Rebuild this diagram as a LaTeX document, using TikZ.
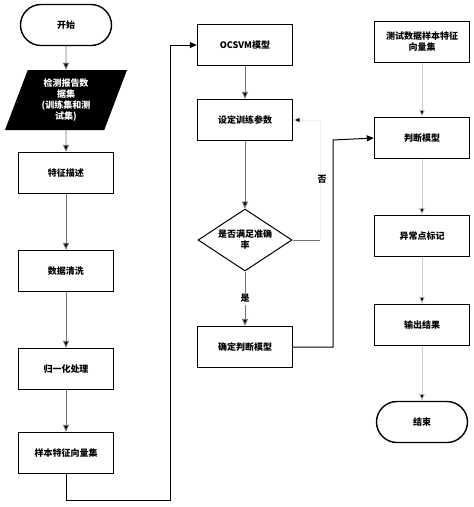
\documentclass[tikz,border=0pt]{standalone}
\usepackage{fontspec}
\setmainfont{Noto Sans CJK SC}
\usetikzlibrary{shapes.geometric,shapes.misc,arrows.meta}
\tikzset{
	procbox/.style={draw, line width=1.4pt, minimum width=95pt, minimum height=41pt, inner sep=2pt, font=\bfseries\small, align=center},
	termbox/.style={procbox, rounded rectangle},
	iobox/.style={trapezium, trapezium left angle=63, trapezium right angle=117, fill=black, text=white, minimum width=122pt, minimum height=60pt, inner sep=1pt, font=\bfseries\small, align=center, trapezium stretches body},
	askbox/.style={diamond, draw, line width=1pt, minimum width=94pt, minimum height=62pt, inner sep=0pt, font=\bfseries\small, align=center, aspect=1.5},
	flow/.style={line width=0.9pt, draw=black!55, -{Triangle[length=7pt,width=6pt,fill=black]}},
	flowlight/.style={flow, draw=black!20},
	link/.style={line width=1pt, -{Triangle[length=7pt,width=6pt]}}
}
\begin{document}
\begin{tikzpicture}[x=1pt,y=-1pt]
		%%%%% START %%%%%
		\useasboundingbox (0,0) rectangle (474,507);
		
		% left column
		\node[termbox] (start) at (66,25) {开始};
		\node[iobox] (data) at (66,100) {检测报告数\\据集\\(训练集和测\\试集)};
		\node[procbox] (desc) at (66,173) {特征描述};
		\node[procbox] (clean) at (66,271) {数据清洗};
		\node[procbox] (norm) at (66,369) {归一化处理};
		\node[procbox] (vec) at (66,453) {样本特征向量集};
		
		% middle column
		\node[procbox] (svm) at (245,45) {OCSVM模型};
		\node[procbox] (param) at (245,120) {设定训练参数};
		\node[askbox] (ask) at (245,240) {是否满足准确\\率};
		\node[procbox] (model) at (245,347) {确定判断模型};
		
		% right column
		\node[procbox] (test) at (422,42) {测试数据样本特征\\向量集};
		\node[procbox] (judge) at (422,138) {判断模型};
		\node[procbox] (mark) at (422,236) {异常点标记};
		\node[procbox] (out) at (422,325) {输出结果};
		\node[termbox] (stop) at (422,422) {结束};
		
		\draw[flow] (start) -- (data);
		\draw[flow] (data) -- (desc);
		\draw[flow] (desc) -- (clean);
		\draw[flow] (clean) -- (norm);
		\draw[flow] (norm) -- (vec);
		\draw[link] (vec.south) |- (170,500) |- (svm.west);
		
		\draw[flow] (svm) -- (param);
		\draw[flow] (param) -- (ask);
		\draw[flow] (ask) -- node[fill=white, font=\bfseries\small, inner sep=2pt] {是} (model);
		\draw[line width=0.6pt, draw=black!55] (ask.east) -- (320,240);
		\draw[line width=0.6pt, draw=black!5, -{Triangle[length=7pt,width=6pt,fill=black]}] (320,240) |- (param.east);
		\node[font=\bfseries\small] (no) at (322,179) {否};
		\draw[link] (model.east) -| (333,140) -- (judge.west);
		
		\draw[flowlight] (test) -- (judge);
		\draw[flowlight] (judge) -- (mark);
		\draw[flowlight] (mark) -- (out);
		\draw[flowlight] (out) -- (stop);
		%%%%% END %%%%%
	\end{tikzpicture}
\end{document}
